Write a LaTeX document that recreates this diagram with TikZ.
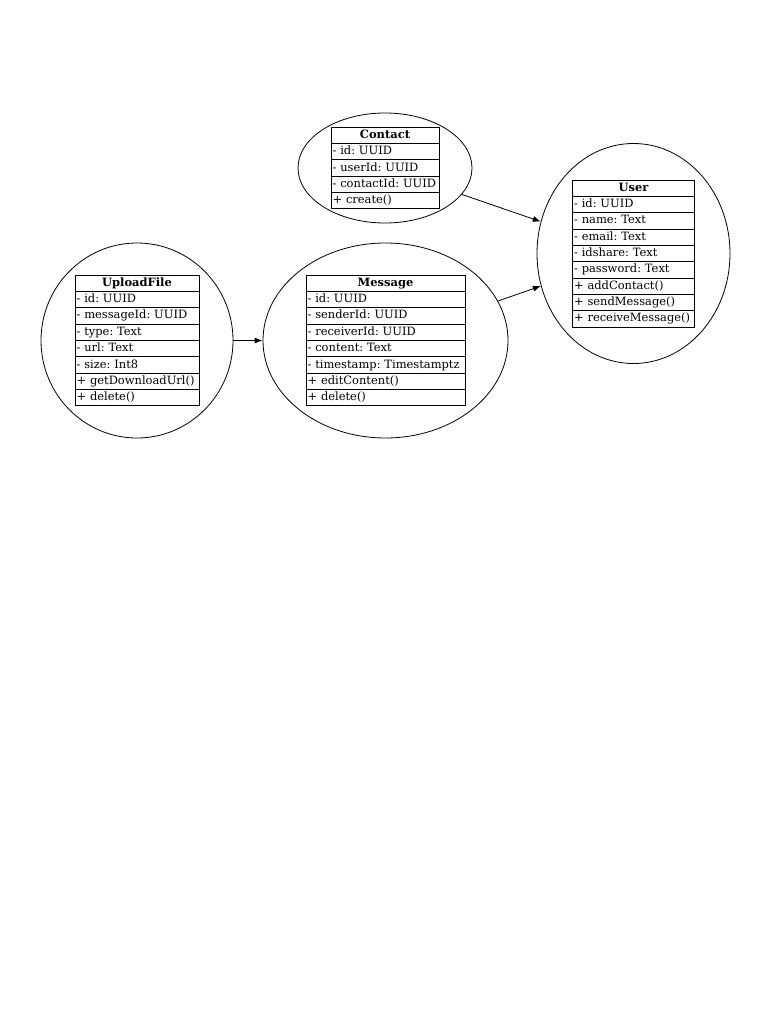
\documentclass[tikz,border=0pt]{standalone}
\usepackage{fontspec}
\setmainfont{DejaVu Serif}
\usetikzlibrary{shapes.geometric,arrows.meta,positioning}
\frenchspacing

\begin{document}
\begin{tikzpicture}[
    x=0.75pt, y=-0.75pt,
    >={Latex[length=6pt,width=4.5pt]},
    entity/.style={ellipse, draw, line width=0.6pt, inner sep=0pt},
    field/.style={rectangle, draw, line width=0.6pt, outer sep=0pt, inner xsep=1.2pt, inner ysep=0pt,
        minimum height=12.26pt, text height=6.5pt, text depth=2pt, text width=#1, align=left,
        font=\fontsize{8.6}{10}\selectfont},
    head/.style={field=#1, align=center, font=\fontsize{8.6}{10}\selectfont\bfseries},
    link/.style={->, line width=0.6pt}
]
\useasboundingbox (0,0) rectangle (768,1024);

% Contact
\node[entity, minimum width=130.5pt, minimum height=82.5pt] (contact) at (385,168) {};
\node[head=78.6pt, yshift=24.52pt] (contact-0) at (contact.center) {Contact};
\foreach \f [count=\i] in {- id: UUID, - userId: UUID, - contactId: UUID, + create()} {
    \pgfmathtruncatemacro\prev{\i-1}
    \node[field=78.6pt, below=0pt of contact-\prev] (contact-\i) {\f};
}

% User
\node[entity, minimum width=144.75pt, minimum height=165pt] (user) at (633.5,253.5) {};
\node[head=89.1pt, yshift=49.04pt] (user-0) at (user.center) {User};
\foreach \f [count=\i] in {- id: UUID, - name: Text, - email: Text, - idshare: Text, - password: Text,
    + addContact(), + sendMessage(), + receiveMessage()} {
    \pgfmathtruncatemacro\prev{\i-1}
    \node[field=89.1pt, below=0pt of user-\prev] (user-\i) {\f};
}

% UploadFile
\node[entity, minimum width=144pt, minimum height=146.25pt] (uploadfile) at (137,340.5) {};
\node[head=90.6pt, yshift=42.91pt] (uploadfile-0) at (uploadfile.center) {UploadFile};
\foreach \f [count=\i] in {- id: UUID, - messageId: UUID, - type: Text, - url: Text, - size: Int8,
    + getDownloadUrl(), + delete()} {
    \pgfmathtruncatemacro\prev{\i-1}
    \node[field=90.6pt, below=0pt of uploadfile-\prev] (uploadfile-\i) {\f};
}

% Message
\node[entity, minimum width=183.75pt, minimum height=146.25pt] (message) at (385.5,340.5) {};
\node[head=116.85pt, yshift=42.91pt] (message-0) at (message.center) {Message};
\foreach \f [count=\i] in {- id: UUID, - senderId: UUID, - receiverId: UUID, - content: Text,
    - timestamp: Timestamptz, + editContent(), + delete()} {
    \pgfmathtruncatemacro\prev{\i-1}
    \node[field=116.85pt, below=0pt of message-\prev] (message-\i) {\f};
}

% Associations
\draw[link] (uploadfile) -- (message);
\draw[link] (contact) -- (user);
\draw[link] (message) -- (user);

\end{tikzpicture}
\end{document}
